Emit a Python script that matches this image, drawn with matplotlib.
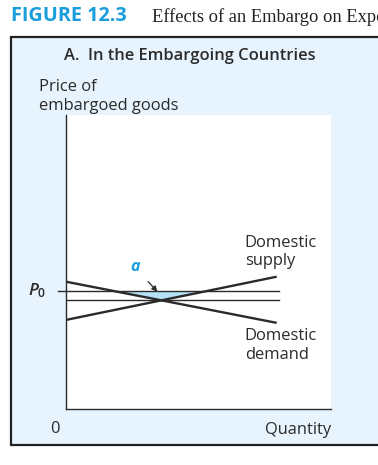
import numpy as np
import matplotlib
matplotlib.use("Agg")
import matplotlib.pyplot as plt
from matplotlib.patches import Rectangle

plt.rcParams["font.family"] = ["Open Sans", "DejaVu Sans"]
plt.rcParams["mathtext.fontset"] = "custom"
plt.rcParams["mathtext.rm"] = "Open Sans:semibold"
plt.rcParams["mathtext.it"] = "Open Sans:italic:semibold"

# ------------------------
# Data (quantity / price, arbitrary units)
# ------------------------
demand_q = [0.0, 7.95]
demand_p = [4.33, 2.93]
supply_q = [0.0, 7.95]
supply_p = [3.03, 4.50]
p0 = 4.02          # embargo price
p_eq = 3.70        # domestic equilibrium price
line_q = [-0.3, 8.04]

W, H = 378, 465
TEXT = "#2b2b2b"
BLUE = "#1a9ddb"
BG = "#e7f4fd"
SHADE = "#b6e1f6"
LINE = "#2a2a2a"
FS = 11.9

fig = plt.figure(figsize=(W / 100, H / 100), dpi=100)

# background layer in pixel coordinates
bg = fig.add_axes([0, 0, 1, 1])
bg.set_xlim(0, W)
bg.set_ylim(H, 0)
bg.axis("off")
bg.add_patch(Rectangle((11, 37), 400, 408, facecolor=BG, edgecolor="#222222", lw=1.6))

bg.text(11, 16, "FIGURE 12.3", color=BLUE, fontsize=14.3, fontweight="bold", va="center", ha="left")
bg.text(152, 17, "Effects of an Embargo on Exports", family="Liberation Serif", fontsize=13.3,
        color="#222222", va="center", ha="left")
bg.text(64, 56, "A.  In the Embargoing Countries", fontsize=FS, fontweight="semibold",
        color=TEXT, va="center", ha="left")
bg.text(39, 87, "Price of", fontsize=FS, color=TEXT, va="center", ha="left")
bg.text(39, 106, "embargoed goods", fontsize=FS, color=TEXT, va="center", ha="left")
bg.text(55, 429, "0", fontsize=FS, color=TEXT, va="center", ha="center")
bg.text(331, 430, "Quantity", fontsize=FS, color=TEXT, va="center", ha="right")

# ------------------------
# Plot area
# ------------------------
ax = fig.add_axes([66 / W, (H - 409) / H, 265 / W, 294 / H])
ax.set_xlim(0, 10)
ax.set_ylim(0, 10)
ax.set_facecolor("white")
for s in ["top", "right"]:
    ax.spines[s].set_visible(False)
for s in ["left", "bottom"]:
    ax.spines[s].set_color(LINE)
    ax.spines[s].set_linewidth(1.0)
ax.set_xticks([])
ax.set_yticks([])

# shaded triangle a
q = np.linspace(0, 8, 800)
dem = np.interp(q, demand_q, demand_p)
sup = np.interp(q, supply_q, supply_p)
top = np.maximum(dem, sup)
ax.fill_between(q, top, p0, where=top <= p0, color=SHADE, lw=0)

ax.plot(line_q, [p0, p0], color=LINE, lw=1.0, clip_on=False)
ax.plot([0, line_q[1]], [p_eq, p_eq], color=LINE, lw=1.0)
ax.plot(demand_q, demand_p, color=LINE, lw=1.7, solid_capstyle="butt")
ax.plot(supply_q, supply_p, color=LINE, lw=1.7, solid_capstyle="butt")

ax.text(-0.75, p0, r"$\mathit{P}_0$", fontsize=12.5, color=TEXT, ha="right", va="center")

ax.annotate("a", xy=(3.45, p0 - 0.03), xytext=(2.6, 4.82), fontsize=11.5, color=BLUE,
            fontweight="bold", fontstyle="italic", ha="center", va="center",
            arrowprops=dict(arrowstyle="-|>", color=LINE, lw=0.9, mutation_scale=8,
                            shrinkA=6, shrinkB=0))

ax.text(6.75, 5.34, "Domestic\nsupply", fontsize=FS, color=TEXT, ha="left", va="center",
        linespacing=1.2)
ax.text(6.75, 2.16, "Domestic\ndemand", fontsize=FS, color=TEXT, ha="left", va="center",
        linespacing=1.2)

fig.savefig("out.png", dpi=100)
